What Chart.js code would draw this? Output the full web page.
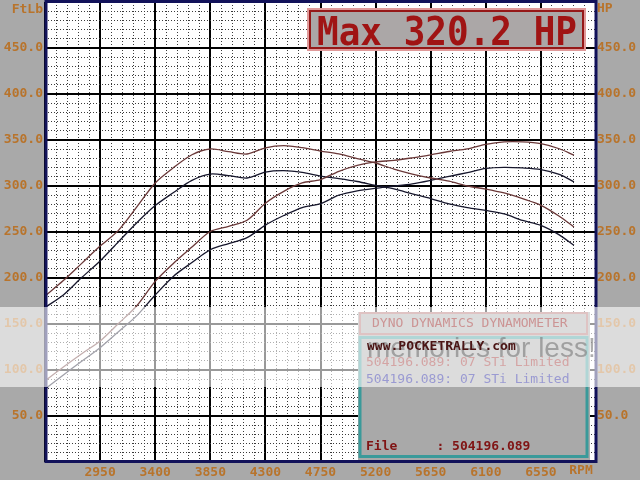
<!DOCTYPE html>
<html>
<head>
<meta charset="utf-8">
<script src="https://cdn.jsdelivr.net/npm/chart.js@4.4.1/dist/chart.umd.min.js"></script>
<style>
  html, body { margin: 0; padding: 0; background: #a9a9a9; }
  #dyno { display: block; }
</style>
</head>
<body>
<canvas id="dyno" width="640" height="480"></canvas>
<script>
// engine speed samples (RPM)
var rpm = [2500, 2650, 2800, 2950, 3100, 3250, 3400, 3550, 3700, 3850,
           4000, 4150, 4300, 4450, 4600, 4750, 4900, 5050, 5200, 5350,
           5500, 5650, 5800, 5950, 6100, 6250, 6400, 6550, 6700, 6820];

// run 1 (upper pair)
var torqueA = [180.5, 197.2, 215.9, 234.7, 251.8, 277.2, 303.3, 320, 334, 340.2,
               337.3, 334.8, 341.5, 343.9, 341.7, 338, 334.8, 329.8, 325, 318.4,
               313, 308.7, 305.3, 300, 296.7, 292.4, 286.2, 279, 267.2, 255.5];
var powerA = [88.3, 103.3, 117.7, 131.5, 150.5, 169.8, 196.3, 216.1, 233.6, 250.5,
              256.2, 262.7, 281.3, 294.2, 303.3, 307, 316, 322.5, 326.3, 327.8,
              330.6, 333.9, 337.5, 340.3, 345.3, 347.9, 347.9, 346, 340.5, 333.5];

// run 2 (lower pair)
var torqueB = [168, 181.6, 200.5, 218.5, 239.4, 260.1, 278.7, 292.9, 306.2, 313,
               311.2, 308.7, 315.1, 316.7, 314.8, 310.8, 308.1, 304.9, 300.7, 296.8,
               291.5, 286.4, 280.6, 276.5, 273.4, 269.6, 262.6, 257.2, 246.9, 235.6];
var powerB = [79.3, 94.6, 109.6, 124.3, 141.6, 159.1, 181.5, 202, 216.8, 230.7,
              237.4, 243.8, 257.5, 267.9, 276.6, 280.8, 290, 294.8, 297.6, 299.8,
              302.3, 306.1, 310.4, 314.6, 319.1, 320.3, 319.6, 317.8, 312.6, 304.5];

// labelled ticks
var rpmTicks = [2950, 3400, 3850, 4300, 4750, 5200, 5650, 6100, 6550];
var valueTicks = [50, 100, 150, 200, 250, 300, 350, 400, 450];

var rpmMin = 2500, rpmMax = 7000, rpmMinor = 90;
var valMin = 0, valMax = 500, valMinor = 10;

var runAColor = '#6a3838';
var runBColor = '#16162c';
var labelColor = '#b8742c';
var monoBold = { family: 'DejaVu Sans Mono', size: 13, weight: 'bold' };

var minorRpm = [];
for (var r = rpmMin; r <= rpmMax; r += rpmMinor) { minorRpm.push(r); }
var minorVal = [];
for (var v = valMin; v <= valMax; v += valMinor) { minorVal.push(v); }

function pts(values) {
    return rpm.map(function (x, i) { return { x: x, y: values[i] }; });
}

function isMajorRpm(c) { return c.tick && (c.tick.value - rpmMin) % 450 === 0; }
function isMajorVal(c) { return c.tick && c.tick.value % 50 === 0; }

var decor = {
    id: 'decor',
    beforeDraw: function (chart) {
        var ctx = chart.ctx, a = chart.chartArea;
        ctx.save();
        ctx.fillStyle = '#a9a9a9';
        ctx.fillRect(0, 0, chart.width, chart.height);
        ctx.fillStyle = '#ffffff';
        ctx.fillRect(a.left, a.top, a.right - a.left, a.bottom - a.top);
        ctx.restore();
    },
    afterDraw: function (chart) {
        var ctx = chart.ctx, a = chart.chartArea;
        ctx.save();

        // plot frame
        ctx.strokeStyle = '#12125a';
        ctx.lineWidth = 3;
        ctx.strokeRect(a.left + 1, a.top - 0.5, a.right - a.left - 1, a.bottom - a.top);

        // max box
        ctx.fillStyle = '#aba7a7';
        ctx.fillRect(307, 8, 279, 43);
        ctx.strokeStyle = '#e09a9a';
        ctx.lineWidth = 2;
        ctx.strokeRect(308, 9, 277, 41);
        ctx.strokeStyle = '#961818';
        ctx.strokeRect(310, 11, 273, 37);
        ctx.fillStyle = '#a01414';
        ctx.font = 'bold 36px "DejaVu Sans Mono"';
        ctx.textAlign = 'center';
        ctx.textBaseline = 'alphabetic';
        ctx.save();
        ctx.translate(447, 45);
        ctx.scale(1, 1.08);
        ctx.fillText('Max 320.2 HP', 0, 0);
        ctx.restore();

        // info boxes
        ctx.fillStyle = '#a9a9a9';
        ctx.fillRect(358, 312, 232, 148);
        ctx.strokeStyle = '#b06a6a';
        ctx.lineWidth = 2;
        ctx.strokeRect(360, 313, 227, 21);
        ctx.strokeStyle = '#3a9a9a';
        ctx.lineWidth = 3;
        ctx.strokeRect(360, 337.5, 227, 119);

        // watermark band
        ctx.fillStyle = 'rgba(255,255,255,0.6)';
        ctx.fillRect(0, 307, chart.width, 80);
        ctx.fillStyle = 'rgba(120,120,120,0.6)';
        ctx.font = '28px "Liberation Sans"';
        ctx.textAlign = 'left';
        ctx.textBaseline = 'alphabetic';
        ctx.fillText('memories for less!', 367, 357);

        // info texts
        ctx.textBaseline = 'middle';
        ctx.font = '13px "DejaVu Sans Mono"';
        ctx.fillStyle = '#cc9494';
        ctx.fillText('DYNO DYNAMICS DYNAMOMETER', 372, 324);
        ctx.font = 'bold 13px "DejaVu Sans Mono"';
        ctx.fillStyle = '#4a1414';
        ctx.fillText('www.POCKETRALLY.com', 367, 347);
        ctx.font = '13px "DejaVu Sans Mono"';
        ctx.fillStyle = '#d4a4a4';
        ctx.fillText('504196.089: 07 STi Limited', 366, 363);
        ctx.fillStyle = '#9a9ad2';
        ctx.fillText('504196.089: 07 STi Limited', 366, 380);
        ctx.font = 'bold 13px "DejaVu Sans Mono"';
        ctx.fillStyle = '#801414';
        ctx.fillText('File     : 504196.089', 366, 447);

        // axis captions
        ctx.fillStyle = labelColor;
        ctx.textAlign = 'right';
        ctx.fillText('FtLb', 43, 10);
        ctx.textAlign = 'left';
        ctx.fillText('HP', 597, 9);
        ctx.textAlign = 'center';
        ctx.fillText('RPM', 581, 471);
        ctx.restore();
    }
};

function gridColor(major) {
    return function (c) { return major(c) ? '#000000' : '#3a3a3a'; };
}
function gridWidth(major) {
    return function (c) { return major(c) ? 2 : 1; };
}
function gridDash(major) {
    return function (c) { return major(c) ? [] : [1, 2]; };
}
function noPadV(s) { s.paddingTop = 0; s.paddingBottom = 0; }
function noPadH(s) { s.paddingLeft = 0; s.paddingRight = 0; }

var chart = new Chart(document.getElementById('dyno'), {
    type: 'line',
    data: {
        datasets: [
            { label: 'Torque 1', data: pts(torqueA), yAxisID: 'y', borderColor: runAColor },
            { label: 'Power 1', data: pts(powerA), yAxisID: 'y2', borderColor: runAColor },
            { label: 'Torque 2', data: pts(torqueB), yAxisID: 'y', borderColor: runBColor },
            { label: 'Power 2', data: pts(powerB), yAxisID: 'y2', borderColor: runBColor }
        ]
    },
    options: {
        responsive: false,
        animation: false,
        layout: { padding: { top: 2, left: 0, right: 0, bottom: 0 } },
        elements: {
            line: { borderWidth: 1.3, tension: 0.3, fill: false },
            point: { radius: 0 }
        },
        plugins: { legend: { display: false }, tooltip: { enabled: false } },
        scales: {
            x: {
                type: 'linear', min: rpmMin, max: rpmMax,
                afterBuildTicks: function (s) { s.ticks = minorRpm.map(function (t) { return { value: t }; }); },
                afterFit: function (s) { s.height = 18; noPadH(s); },
                ticks: {
                    autoSkip: false, maxRotation: 0, minRotation: 0, padding: 3,
                    font: monoBold, color: labelColor,
                    callback: function (t) { return rpmTicks.indexOf(t) >= 0 ? String(t) : ''; }
                },
                grid: { drawTicks: false, color: gridColor(isMajorRpm), lineWidth: gridWidth(isMajorRpm) },
                border: { display: false, dash: gridDash(isMajorRpm) }
            },
            y: {
                position: 'left', min: valMin, max: valMax,
                afterBuildTicks: function (s) { s.ticks = minorVal.map(function (t) { return { value: t }; }); },
                afterFit: function (s) { s.width = 45; noPadV(s); },
                ticks: {
                    autoSkip: false, padding: 2, font: monoBold, color: labelColor,
                    callback: function (t) { return valueTicks.indexOf(t) >= 0 ? t.toFixed(1) : ''; }
                },
                grid: { drawTicks: false, color: gridColor(isMajorVal), lineWidth: gridWidth(isMajorVal) },
                border: { display: false, dash: gridDash(isMajorVal) }
            },
            y2: {
                position: 'right', min: valMin, max: valMax,
                afterBuildTicks: function (s) { s.ticks = minorVal.map(function (t) { return { value: t }; }); },
                afterFit: function (s) { s.width = 44; noPadV(s); },
                ticks: {
                    autoSkip: false, padding: 1, font: monoBold, color: labelColor,
                    callback: function (t) { return valueTicks.indexOf(t) >= 0 ? t.toFixed(1) : ''; }
                },
                grid: { drawOnChartArea: false, drawTicks: false },
                border: { display: false }
            }
        }
    },
    plugins: [decor]
});
</script>
</body>
</html>
